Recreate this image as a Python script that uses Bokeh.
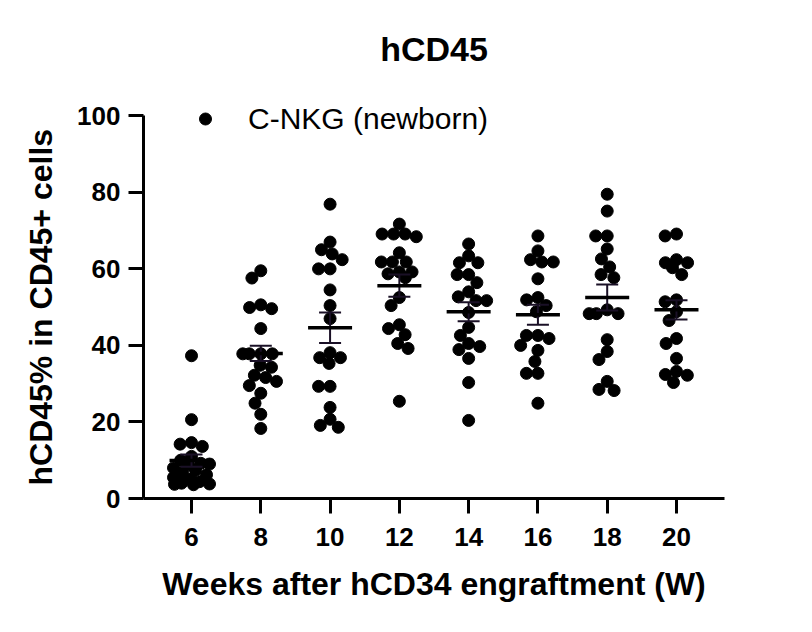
import math
from bokeh.plotting import figure
from bokeh.models import FixedTicker, Legend, LegendItem, Title
from bokeh.embed import file_html
from bokeh.resources import INLINE

# ---- data ----
weeks = [6, 8, 10, 12, 14, 16, 18, 20]
w6 = [37.3, 20.6, 14.6, 14.2, 13.6, 11.0, 10.0, 9.2, 9.0, 8.8, 8.0, 7.4, 6.8, 6.2, 5.5, 5.0, 4.4, 4.0, 3.7, 3.6, 3.8]
w8 = [59.5, 57.6, 50.6, 49.9, 49.6, 44.4, 37.8, 37.8, 37.8, 37.8, 34.3, 34.8, 31.6, 32.2, 29.5, 30.6, 27.5, 24.9, 22.0, 18.3]
w10 = [76.9, 63.9, 65.0, 67.0, 60.0, 60.0, 62.4, 54.5, 50.4, 47.0, 36.8, 38.1, 36.8, 35.3, 29.3, 29.3, 23.8, 20.7, 18.6, 19.1]
w12 = [71.7, 68.4, 69.1, 69.1, 69.1, 64.2, 61.8, 61.8, 61.8, 59.2, 57.7, 59.2, 58.7, 52.5, 50.4, 45.4, 44.4, 42.8, 40.5, 39.2, 25.4]
w14 = [66.5, 63.4, 61.6, 61.6, 58.5, 58.5, 56.4, 54.0, 51.7, 52.7, 51.7, 48.6, 44.7, 42.6, 38.9, 39.7, 40.5, 36.6, 30.3, 20.4]
w16 = [68.6, 64.7, 61.8, 62.4, 61.8, 57.4, 52.5, 51.9, 50.4, 48.8, 42.6, 41.8, 42.6, 40.0, 38.7, 35.8, 32.7, 32.7, 24.9]
w18 = [79.5, 75.1, 68.6, 68.6, 65.2, 62.6, 60.5, 57.7, 58.5, 48.3, 49.3, 48.3, 48.3, 41.5, 38.4, 36.3, 30.6, 28.2, 28.5]
w20 = [68.6, 69.1, 61.6, 61.6, 60.3, 62.4, 58.5, 51.9, 51.4, 48.8, 46.5, 41.8, 40.5, 36.6, 33.2, 32.2, 32.4, 30.3]
groups = [w6, w8, w10, w12, w14, w16, w18, w20]
means = [9.9, 37.9, 44.6, 55.6, 48.8, 48.0, 52.5, 49.3]
sems = [1.6, 2.0, 4.0, 2.9, 2.5, 2.6, 3.4, 2.5]
y_ticks = [0, 20, 40, 60, 80, 100]

# ---- geometry ----
W, H = 812, 632
LEFT, RIGHT, TOP, BOTTOM = 143, 88, 77, 134
XR = (4.614, 21.386)
YR = (0, 110)
SX = (W - LEFT - RIGHT) / (XR[1] - XR[0])   # px per x unit
SY = (H - TOP - BOTTOM) / (YR[1] - YR[0])   # px per y unit
DOT = 12
D = 11.5
MAXW = 18.0


def swarm(vals):
    placed = []
    out = [0.0] * len(vals)
    order = sorted(range(len(vals)), key=lambda i: -vals[i])
    for i in order:
        y = vals[i] * SY
        iv = []
        for (px, py) in placed:
            dy = abs(py - y)
            if dy < D:
                w = math.sqrt(D * D - dy * dy)
                iv.append((px - w, px + w))
        cands = [0.0] + [a for a, b in iv] + [b for a, b in iv]
        cands.sort(key=abs)
        x = None
        for c in cands:
            if all(not (a + 1e-6 < c < b - 1e-6) for a, b in iv):
                x = c
                break
        if x is None or abs(x) > MAXW:
            best, bestd = 0.0, -1
            k = -MAXW
            while k <= MAXW + 1e-9:
                md = min([math.hypot(k - px, y - py) for px, py in placed] or [99])
                if md > bestd + 1e-6 or (abs(md - bestd) < 1e-6 and abs(k) < abs(best)):
                    best, bestd = k, md
                k += 1.0
            x = best
        placed.append((x, y))
        out[i] = x / SX
    return out


xs, ys = [], []
for wk, vals in zip(weeks, groups):
    offs = swarm(vals)
    xs += [wk + o for o in offs]
    ys += vals

FONT = "Liberation Sans"

p = figure(width=W, height=H, x_range=XR, y_range=YR,
           output_backend="svg", toolbar_location=None,
           min_border_left=LEFT, min_border_right=RIGHT,
           min_border_top=TOP, min_border_bottom=BOTTOM,
           title="hCD45")
p.outline_line_color = None
p.grid.visible = False
p.background_fill_color = "white"
p.border_fill_color = "white"

p.title.text_font = FONT
p.title.text_font_size = "34px"
p.title.text_font_style = "bold"
p.title.align = "center"
p.title.standoff = 19
p.title.text_color = "black"

dots = p.scatter(x=xs, y=ys, size=DOT, color="black", line_color="black")

mean_half = 22 / SX
cap_half = 11 / SX
mx0 = [w - mean_half for w in weeks]
mx1 = [w + mean_half for w in weeks]
cx0 = [w - cap_half for w in weeks]
cx1 = [w + cap_half for w in weeks]
hi = [m + s for m, s in zip(means, sems)]
lo = [m - s for m, s in zip(means, sems)]
p.segment(x0=weeks, y0=lo, x1=weeks, y1=hi, line_color="#1a1026", line_width=2)
p.segment(x0=cx0, y0=hi, x1=cx1, y1=hi, line_color="#1a1026", line_width=2)
p.segment(x0=cx0, y0=lo, x1=cx1, y1=lo, line_color="#1a1026", line_width=2)
p.segment(x0=mx0, y0=means, x1=mx1, y1=means, line_color="black", line_width=3.5)

for ax in (p.xaxis[0], p.yaxis[0]):
    ax.axis_line_width = 3
    ax.axis_line_color = "black"
    ax.major_tick_line_width = 3
    ax.major_tick_line_color = "black"
    ax.major_tick_in = 0
    ax.major_tick_out = 15
    ax.minor_tick_line_color = None
    ax.major_label_text_font = FONT
    ax.major_label_text_font_style = "bold"
    ax.major_label_text_font_size = "26px"
    ax.major_label_text_color = "black"
    ax.axis_label_text_font = FONT
    ax.axis_label_text_font_style = "bold"
    ax.axis_label_text_font_size = "32px"
    ax.axis_label_text_color = "black"

p.yaxis.bounds = (0, 100)
p.xaxis.ticker = FixedTicker(ticks=weeks)
p.yaxis.ticker = FixedTicker(ticks=y_ticks)
p.xaxis.axis_label = "Weeks after hCD34 engraftment (W)"
p.yaxis.major_label_standoff = 8
p.xaxis.major_label_standoff = 14
p.xaxis.axis_label_standoff = 17

ytitle = Title(text="hCD45% in CD45+ cells", align="left", offset=13, standoff=32,
               text_font=FONT, text_font_size="32px", text_font_style="bold",
               text_color="black")
p.add_layout(ytitle, "left")

legend = Legend(items=[LegendItem(label="C-NKG (newborn)", renderers=[dots])],
                location=(47, 362), padding=0, margin=0, spacing=0,
                glyph_width=30, glyph_height=35, label_standoff=28,
                label_text_font=FONT, label_text_font_size="30px",
                label_text_color="black",
                background_fill_alpha=0, border_line_alpha=0)
p.add_layout(legend)

open("out.html", "w").write(file_html(p, INLINE))
